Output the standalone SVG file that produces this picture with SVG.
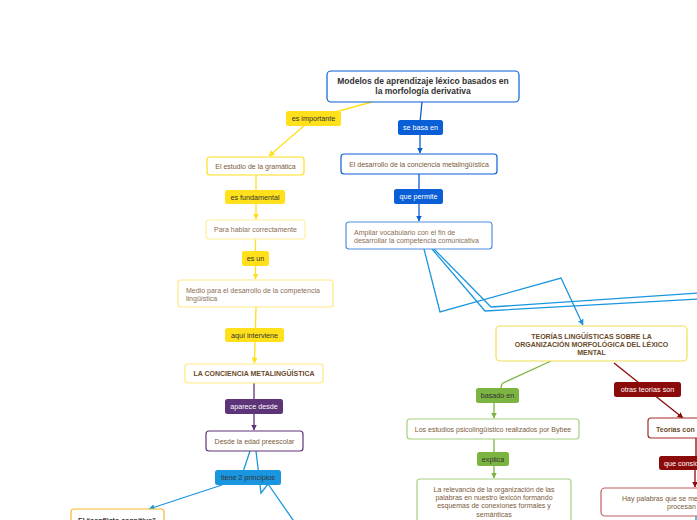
<svg xmlns="http://www.w3.org/2000/svg" width="697" height="520" viewBox="0 0 697 520">
<defs>
<marker id="aY" markerWidth="6" markerHeight="6" refX="5.5" refY="3" orient="auto" markerUnits="userSpaceOnUse"><path d="M0,0 L6,3 L0,6 Z" fill="#ffe01a"/></marker>
<marker id="aB" markerWidth="6" markerHeight="6" refX="5.5" refY="3" orient="auto" markerUnits="userSpaceOnUse"><path d="M0,0 L6,3 L0,6 Z" fill="#0a5fd6"/></marker>
<marker id="aC" markerWidth="6" markerHeight="6" refX="5.5" refY="3" orient="auto" markerUnits="userSpaceOnUse"><path d="M0,0 L6,3 L0,6 Z" fill="#1a96e0"/></marker>
<marker id="aP" markerWidth="6" markerHeight="6" refX="5.5" refY="3" orient="auto" markerUnits="userSpaceOnUse"><path d="M0,0 L6,3 L0,6 Z" fill="#5e3478"/></marker>
<marker id="aG" markerWidth="6" markerHeight="6" refX="5.5" refY="3" orient="auto" markerUnits="userSpaceOnUse"><path d="M0,0 L6,3 L0,6 Z" fill="#7cb442"/></marker>
<marker id="aR" markerWidth="6" markerHeight="6" refX="5.5" refY="3" orient="auto" markerUnits="userSpaceOnUse"><path d="M0,0 L6,3 L0,6 Z" fill="#8b0b0b"/></marker>
</defs>
<style>
text{font-family:"Liberation Sans",Arial,sans-serif;}
.n{fill:#fff;stroke-width:1.2;}
.t{font-size:7px;fill:#7a5a3a;}
.tb{font-size:7px;fill:#6a4a2a;font-weight:bold;}
.c{text-anchor:middle;}
.l{font-size:7.2px;text-anchor:middle;}
.lk{fill:#333;}
.lw{fill:#fff;}
.ln{fill:none;stroke-width:1.3;}
.y{stroke:#ffe01a;}
.b{stroke:#0a5fd6;}
.cy{stroke:#1a96e0;}
.p{stroke:#5e3478;}
.g{stroke:#7cb442;}
.r{stroke:#8b0b0b;}
</style>
<rect width="697" height="520" fill="#fff"/>
<g id="connectors">
<path class="ln y" d="M372,102 L313,118"/>
<path class="ln y" d="M313,118 L269,156" marker-end="url(#aY)"/>
<path class="ln y" d="M256,175 L256,219" marker-end="url(#aY)"/>
<path class="ln y" d="M255.5,239 L255.5,279" marker-end="url(#aY)"/>
<path class="ln y" d="M256,307 L254.5,363" marker-end="url(#aY)"/>
<path class="ln p" d="M254,383 L254,430" marker-end="url(#aP)"/>
<path class="ln cy" d="M250,451 L243,472"/>
<path class="ln cy" d="M222,485 L149,509" marker-end="url(#aC)"/>
<path class="ln cy" d="M256,451 L261,493 L268,484 L300,530"/>
<path class="ln b" d="M422,102 L420,122"/>
<path class="ln b" d="M420,135 L420,153" marker-end="url(#aB)"/>
<path class="ln b" d="M419,174 L419,190"/>
<path class="ln b" d="M419,204 L419,221" marker-end="url(#aB)"/>
<path class="ln cy" d="M424,249 L440,312 L561,278 L583,325" marker-end="url(#aC)"/>
<path class="ln cy" d="M432,249 L485,311 L700,299"/>
<path class="ln cy" d="M434,249 L491,307 L700,293"/>
<path class="ln g" d="M551,361 L503,383 Q501,384 501,390"/>
<path class="ln g" d="M494,403 L494,418" marker-end="url(#aG)"/>
<path class="ln g" d="M494,439 L494,452"/>
<path class="ln g" d="M494,466 L494,478" marker-end="url(#aG)"/>
<path class="ln r" d="M614,363 L683,418" marker-end="url(#aR)"/>
<path class="ln r" d="M696,438 L696,457"/>
<path class="ln r" d="M695,469 L695,487" marker-end="url(#aR)"/>
<path class="ln cy" d="M696,516 L696,522"/>
</g>
<g id="root">
<rect class="n" x="327" y="71" width="192" height="31" rx="4" stroke="#0a5fd6"/>
<text x="423" y="84" style="font-size:8.5px;font-weight:bold;fill:#333;text-anchor:middle">Modelos de aprendizaje léxico basados en</text>
<text x="423" y="94" style="font-size:8.5px;font-weight:bold;fill:#333;text-anchor:middle">la morfología derivativa</text>
</g>
<g id="lbl-es-importante"><rect x="286" y="111" width="55" height="15" rx="2.5" fill="#ffe01a"/><text class="l lk" x="313.5" y="121">es importante</text></g>
<g id="n-estudio"><rect class="n" x="207" y="157" width="97" height="18" rx="3" stroke="#ffe01a"/><text class="t c" x="255.5" y="168.5">El estudio de la gramática</text></g>
<g id="lbl-es-fundamental"><rect x="225" y="190" width="60" height="14" rx="2.5" fill="#ffe01a"/><text class="l lk" x="255" y="199.5">es fundamental</text></g>
<g id="n-hablar"><rect class="n" x="206" y="220" width="99" height="19" rx="3" stroke="#fff09a"/><text class="t c" x="255.5" y="232" style="fill:#8a6e55">Para hablar correctamente</text></g>
<g id="lbl-es-un"><rect x="242" y="251" width="27" height="15" rx="2.5" fill="#ffe01a"/><text class="l lk" x="255.5" y="261">es un</text></g>
<g id="n-medio"><rect class="n" x="178" y="280" width="155" height="27" rx="3" stroke="#ffe880"/><text class="t" x="186" y="292.5" style="fill:#8a6e55">Medio para el desarrollo de la competencia</text><text class="t" x="186" y="300.5" style="fill:#8a6e55">lingüística</text></g>
<g id="lbl-aqui"><rect x="225" y="328" width="59" height="14" rx="2.5" fill="#ffe01a"/><text class="l lk" x="254.5" y="337.5">aquí interviene</text></g>
<g id="n-conciencia"><rect class="n" x="185" y="364" width="138" height="19" rx="3" stroke="#ffe880"/><text class="tb c" x="254" y="376">LA CONCIENCIA METALINGÜÍSTICA</text></g>
<g id="lbl-aparece"><rect x="225" y="399" width="58" height="15" rx="2.5" fill="#5e3478"/><text class="l lw" x="254" y="409">aparece desde</text></g>
<g id="n-preescolar"><rect class="n" x="206" y="431" width="97" height="20" rx="3" stroke="#5e3478"/><text class="t c" x="254.5" y="443.5">Desde la edad preescolar</text></g>
<g id="lbl-tiene"><rect x="215" y="470" width="66" height="15" rx="2.5" fill="#1a96e0"/><text class="l lk" x="248" y="480">tiene 2 principios</text></g>
<g id="n-conflicto"><rect class="n" x="71" y="509" width="93" height="24" rx="3" stroke="#f5b82a"/><text class="tb" x="78" y="522.5" style="fill:#333">El “conflicto cognitivo”</text></g>
<g id="lbl-se-basa"><rect x="398" y="120" width="45" height="15" rx="2.5" fill="#0a5fd6"/><text class="l lw" x="420.5" y="130">se basa en</text></g>
<g id="n-desarrollo"><rect class="n" x="341" y="154" width="156" height="20" rx="3" stroke="#0a5fd6"/><text class="t c" x="419" y="166.5">El desarrollo de la conciencia metalingüística</text></g>
<g id="lbl-que-permite"><rect x="394" y="189" width="49" height="15" rx="2.5" fill="#0a5fd6"/><text class="l lw" x="418.5" y="199">que permite</text></g>
<g id="n-ampliar"><rect class="n" x="346" y="222" width="146" height="27" rx="3" stroke="#4f90e0"/><text class="t" x="354" y="234.5" style="fill:#8a6e55">Ampliar vocabulario con el fin de</text><text class="t" x="354" y="242.5" style="fill:#8a6e55">desarrollar la competencia comunicativa</text></g>
<g id="n-teorias"><rect class="n" x="496" y="326" width="191" height="35" rx="4" stroke="#f0e050"/><text class="tb c" x="591.5" y="338.5">TEORÍAS LINGÜÍSTICAS SOBRE LA</text><text class="tb c" x="591.5" y="346.5">ORGANIZACIÓN MORFOLÓGICA DEL LÉXICO</text><text class="tb c" x="591.5" y="354.5">MENTAL</text></g>
<g id="lbl-basado"><rect x="476" y="388" width="43" height="15" rx="2.5" fill="#7cb442"/><text class="l lk" x="497.5" y="398">basado en</text></g>
<g id="n-bybee"><rect class="n" x="407" y="419" width="172" height="20" rx="3" stroke="#a8d080"/><text class="t c" x="493" y="431.5">Los estudios psicolingüístico realizados por Bybee</text></g>
<g id="lbl-explica"><rect x="477" y="452" width="32" height="14" rx="2.5" fill="#7cb442"/><text class="l lk" x="493" y="461.5">explica</text></g>
<g id="n-relevancia"><rect class="n" x="417" y="479" width="154" height="50" rx="3" stroke="#a8d080"/><text class="t c" x="494" y="491.5">La relevancia de la organización de las</text><text class="t c" x="494" y="499.5">palabras en nuestro lexicón formando</text><text class="t c" x="494" y="508">esquemas de conexiones formales y</text><text class="t c" x="494" y="516.5">semánticas</text></g>
<g id="lbl-otras"><rect x="614" y="382" width="67" height="15" rx="2.5" fill="#8b0b0b"/><text class="l lw" x="647.5" y="392">otras teorías son</text></g>
<g id="n-teorias-con"><rect class="n" x="648" y="418" width="60" height="20" rx="3" stroke="#a52a2a"/><text class="tb" x="656" y="431.5">Teorías con</text></g>
<g id="lbl-que-consid"><rect x="659" y="456" width="50" height="14" rx="2.5" fill="#8b0b0b"/><text class="l lw" x="664" y="466" style="text-anchor:start">que consid</text></g>
<g id="n-hay-palabras"><rect class="n" x="601" y="488" width="120" height="28" rx="4" stroke="#c06060"/><text class="t" x="622" y="500.5">Hay palabras que se me</text><text class="t" x="667" y="508.5">procesan</text></g>
</svg>
